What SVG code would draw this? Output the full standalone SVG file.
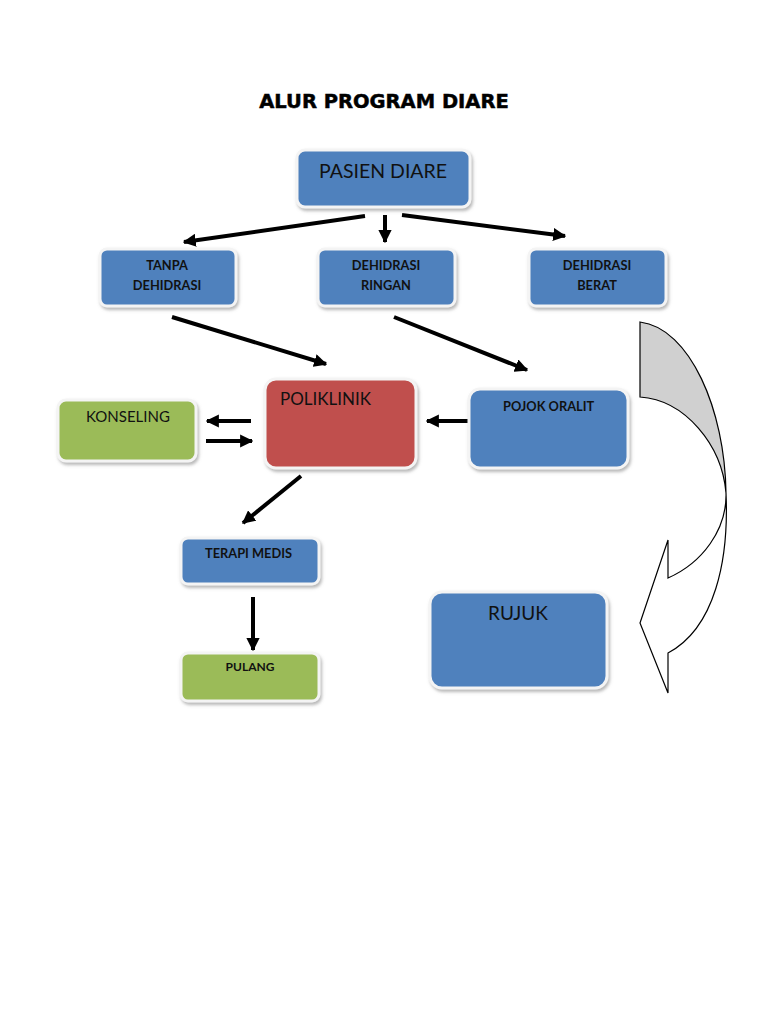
<svg xmlns="http://www.w3.org/2000/svg" width="768" height="1024" viewBox="0 0 768 1024">
<style>
.box{stroke:#f4f4f4;stroke-width:3;filter:url(#sh)}
.blue{fill:#4F81BD}
.red{fill:#C0504D}
.green{fill:#9BBB59}
.t{font-family:Lato,"Open Sans","Liberation Sans",sans-serif;fill:#111}
.b{font-weight:bold}
.s{font-size:12.8px}
.c{text-anchor:middle}
.con{stroke:#000;stroke-width:4;fill:none;marker-end:url(#ah)}
</style>
<defs>
<filter id="sh" x="-20%" y="-20%" width="140%" height="150%">
<feDropShadow dx="1.5" dy="2.5" stdDeviation="1.5" flood-color="#888" flood-opacity="0.6"/>
</filter>
<marker id="ah" viewBox="0 0 10 10" markerWidth="3.3" markerHeight="3.3" refX="9" refY="5" orient="auto">
<path d="M0,0 L10,5 L0,10 Z" fill="#000"/>
</marker>
</defs>
<rect width="768" height="1024" fill="#fff"/>
<text x="384" y="108" text-anchor="middle" font-family="'DejaVu Sans',sans-serif" font-weight="bold" font-size="19.5" fill="#000" stroke="#000" stroke-width="0.5">ALUR PROGRAM DIARE</text>

<g id="connectors">
<line class="con" x1="365" y1="216" x2="184" y2="242"/>
<line class="con" x1="385" y1="215" x2="385" y2="242"/>
<line class="con" x1="402" y1="215" x2="565" y2="236"/>
<line class="con" x1="172" y1="317" x2="326" y2="364"/>
<line class="con" x1="394" y1="317" x2="527" y2="370"/>
<line class="con" x1="469" y1="421" x2="427" y2="421"/>
<line class="con" x1="251" y1="421" x2="207" y2="421"/>
<line class="con" x1="206" y1="441" x2="252" y2="441"/>
<line class="con" x1="301" y1="476" x2="243" y2="523"/>
<line class="con" x1="253" y1="597" x2="253" y2="650"/>
<g id="curved-arrow" stroke="#000" stroke-width="1.2">
<path d="M640,322 C690,328 725,410 726,493 C722,445 685,400 640,397 Z" fill="#d0d0d0"/>
<path d="M726,493 C729,560 715,628 668,653 L668,693 L640,623 L668,540 L668,578 C702,563 727,530 726,493 Z" fill="#fff"/>
</g>
</g>

<g id="pasien-diare">
<rect class="box blue" x="297" y="150" width="173" height="57" rx="8"/>
<text class="t" x="383" y="178" text-anchor="middle" font-size="19.5">PASIEN DIARE</text>
</g>
<g id="tanpa-dehidrasi">
<rect class="box blue" x="100" y="249" width="136" height="57" rx="7"/>
<text class="t b s c" x="167" y="270">TANPA</text>
<text class="t b s c" x="167" y="290">DEHIDRASI</text>
</g>
<g id="dehidrasi-ringan">
<rect class="box blue" x="318" y="249" width="137" height="57" rx="7"/>
<text class="t b s c" x="386" y="270">DEHIDRASI</text>
<text class="t b s c" x="386" y="290">RINGAN</text>
</g>
<g id="dehidrasi-berat">
<rect class="box blue" x="529" y="249" width="137" height="57" rx="7"/>
<text class="t b s c" x="597" y="270">DEHIDRASI</text>
<text class="t b s c" x="597" y="290">BERAT</text>
</g>
<g id="poliklinik">
<rect class="box red" x="265" y="379" width="151" height="89" rx="11"/>
<text class="t" x="280" y="405" font-size="17">POLIKLINIK</text>
</g>
<g id="konseling">
<rect class="box green" x="58" y="400" width="138" height="61" rx="8"/>
<text class="t" x="86" y="422" font-size="15">KONSELING</text>
</g>
<g id="pojok-oralit">
<rect class="box blue" x="469" y="389" width="159" height="79" rx="11"/>
<text class="t b s" x="503" y="411">POJOK ORALIT</text>
</g>
<g id="terapi-medis">
<rect class="box blue" x="181" y="538" width="138" height="46" rx="7"/>
<text class="t b s" x="205" y="558">TERAPI MEDIS</text>
</g>
<g id="pulang">
<rect class="box green" x="181" y="653" width="138" height="48" rx="7"/>
<text class="t b c" x="250" y="671" font-size="12">PULANG</text>
</g>
<g id="rujuk">
<rect class="box blue" x="430" y="592" width="177" height="96" rx="12"/>
<text class="t" x="518" y="620" text-anchor="middle" font-size="19">RUJUK</text>
</g>
</svg>
